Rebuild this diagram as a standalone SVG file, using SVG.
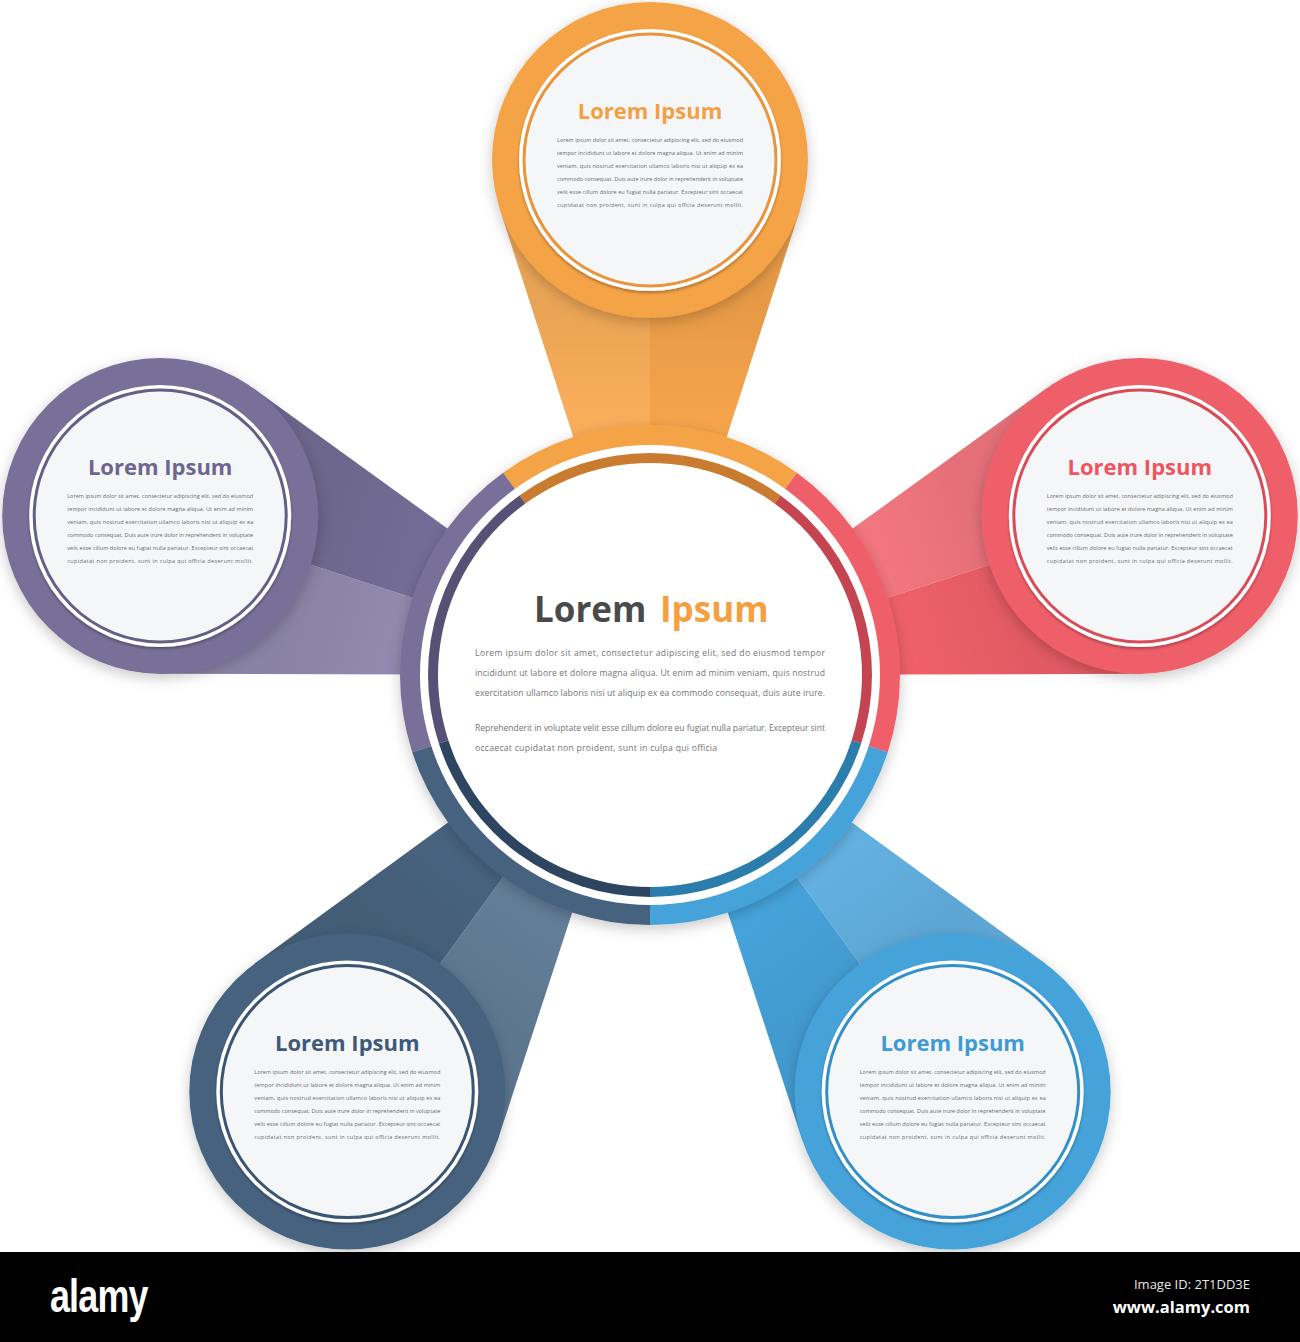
<svg xmlns="http://www.w3.org/2000/svg" width="1300" height="1342" viewBox="0 0 1300 1342">
<defs>
<style>
.title{font-family:"Open Sans","Liberation Sans",sans-serif;font-weight:700;font-size:22px;text-anchor:middle}
.body{font-family:"Open Sans","Liberation Sans",sans-serif;font-size:5.5px;fill:#6b6b6b}
.cbody{font-family:"Open Sans","Liberation Sans",sans-serif;font-size:8.6px;fill:#737373}
.ctitle{font-family:"Open Sans","Liberation Sans",sans-serif;font-weight:700;font-size:35px}
.inner{fill:#f5f6f7;stroke-width:3}
</style>
<filter id="sh" x="-30%" y="-30%" width="160%" height="160%">
<feDropShadow dx="0" dy="4" stdDeviation="7" flood-color="#000" flood-opacity="0.22"/>
</filter>
<filter id="sh2" x="-10%" y="-10%" width="120%" height="125%">
<feDropShadow dx="0" dy="2" stdDeviation="1.5" flood-color="#000" flood-opacity="0.3"/>
</filter>
<linearGradient id="stemShade" gradientUnits="userSpaceOnUse" x1="0" y1="310" x2="0" y2="420">
<stop offset="0" stop-color="#000" stop-opacity="0.06"/>
<stop offset="1" stop-color="#000" stop-opacity="0"/>
</linearGradient>
<path id="stemL" d="M650,675 L499.6,208.4 L650,160 Z"/>
<path id="stemR" d="M650,675 L800.4,208.4 L650,160 Z"/>
<path id="stemAll" d="M650,675 L499.6,208.4 L650,160 L800.4,208.4 Z"/>
<path id="wedgeO" d="M650,675 L503.05,472.75 A250,250 0 0 1 796.95,472.75 Z"/>
<path id="wedgeI" d="M650,675 L519.51,495.4 A222,222 0 0 1 780.49,495.4 Z"/>
</defs>

<rect width="1300" height="1342" fill="#ffffff"/>

<g id="connectors">
<g transform="rotate(0 650 675)">
<use href="#stemL" fill="#f9ae5a"/><use href="#stemR" fill="#f5a44b"/><use href="#stemAll" fill="url(#stemShade)"/>
</g>
<g transform="rotate(72 650 675)">
<use href="#stemL" fill="#f2767f"/><use href="#stemR" fill="#ef6069"/><use href="#stemAll" fill="url(#stemShade)"/>
</g>
<g transform="rotate(144 650 675)">
<use href="#stemL" fill="#63b1e2"/><use href="#stemR" fill="#46a3db"/><use href="#stemAll" fill="url(#stemShade)"/>
</g>
<g transform="rotate(216 650 675)">
<use href="#stemL" fill="#637e99"/><use href="#stemR" fill="#48637f"/><use href="#stemAll" fill="url(#stemShade)"/>
</g>
<g transform="rotate(288 650 675)">
<use href="#stemL" fill="#918aae"/><use href="#stemR" fill="#736c95"/><use href="#stemAll" fill="url(#stemShade)"/>
</g>
</g>

<g id="node-center">
<g filter="url(#sh)">
<use href="#wedgeO" fill="#f5a346"/>
<use href="#wedgeO" fill="#ef5f69" transform="rotate(72 650 675)"/>
<use href="#wedgeO" fill="#45a3da" transform="rotate(144 650 675)"/>
<use href="#wedgeO" fill="#46627f" transform="rotate(216 650 675)"/>
<use href="#wedgeO" fill="#786f99" transform="rotate(288 650 675)"/>
</g>
<circle cx="650" cy="675" r="230" fill="#ffffff"/>
<use href="#wedgeI" fill="#c97c30"/>
<use href="#wedgeI" fill="#c44452" transform="rotate(72 650 675)"/>
<use href="#wedgeI" fill="#2b7dab" transform="rotate(144 650 675)"/>
<use href="#wedgeI" fill="#2d4561" transform="rotate(216 650 675)"/>
<use href="#wedgeI" fill="#585176" transform="rotate(288 650 675)"/>
<circle cx="650" cy="675" r="212" fill="#ffffff"/>
<text class="ctitle" y="622"><tspan x="534" fill="#4a4a4a">Lorem</tspan><tspan x="660" fill="#f5a040">Ipsum</tspan></text>
<text class="cbody" x="475" y="656" textLength="350" lengthAdjust="spacing">Lorem ipsum dolor sit amet, consectetur adipiscing elit, sed do eiusmod tempor</text>
<text class="cbody" x="475" y="676" textLength="350" lengthAdjust="spacing">incididunt ut labore et dolore magna aliqua. Ut enim ad minim veniam, quis nostrud</text>
<text class="cbody" x="475" y="696" textLength="350" lengthAdjust="spacing">exercitation ullamco laboris nisi ut aliquip ex ea commodo consequat, duis aute irure.</text>
<text class="cbody" x="475" y="731" textLength="350" lengthAdjust="spacing">Reprehenderit in voluptate velit esse cillum dolore eu fugiat nulla pariatur. Excepteur sint</text>
<text class="cbody" x="475" y="751" textLength="242" lengthAdjust="spacing">occaecat cupidatat non proident, sunt in culpa qui officia</text>
</g>

<g id="node-top">
<circle cx="650" cy="160" r="158" fill="#f5a346" filter="url(#sh)"/>
<circle cx="650" cy="160" r="131" fill="#ffffff" filter="url(#sh2)"/>
<circle cx="650" cy="160" r="126" class="inner" stroke="#e8953c"/>
<text class="title" x="650" y="119" fill="#f3a043">Lorem Ipsum</text>
<text class="body" x="557" y="142" textLength="186" lengthAdjust="spacing">Lorem ipsum dolor sit amet, consectetur adipiscing elit, sed do eiusmod</text>
<text class="body" x="557" y="155" textLength="186" lengthAdjust="spacing">tempor incididunt ut labore et dolore magna aliqua. Ut enim ad minim</text>
<text class="body" x="557" y="168" textLength="186" lengthAdjust="spacing">veniam, quis nostrud exercitation ullamco laboris nisi ut aliquip ex ea</text>
<text class="body" x="557" y="181" textLength="186" lengthAdjust="spacing">commodo consequat. Duis aute irure dolor in reprehenderit in voluptate</text>
<text class="body" x="557" y="194" textLength="186" lengthAdjust="spacing">velit esse cillum dolore eu fugiat nulla pariatur. Excepteur sint occaecat</text>
<text class="body" x="557" y="207" textLength="186" lengthAdjust="spacing">cupidatat non proident, sunt in culpa qui officia deserunt mollit.</text>
</g>

<g id="node-right">
<circle cx="1139.8" cy="515.9" r="158" fill="#ef5f69" filter="url(#sh)"/>
<circle cx="1139.8" cy="515.9" r="131" fill="#ffffff" filter="url(#sh2)"/>
<circle cx="1139.8" cy="515.9" r="126" class="inner" stroke="#d94b56"/>
<text class="title" x="1139.8" y="475" fill="#ec5561">Lorem Ipsum</text>
<text class="body" x="1046.8" y="498" textLength="186" lengthAdjust="spacing">Lorem ipsum dolor sit amet, consectetur adipiscing elit, sed do eiusmod</text>
<text class="body" x="1046.8" y="511" textLength="186" lengthAdjust="spacing">tempor incididunt ut labore et dolore magna aliqua. Ut enim ad minim</text>
<text class="body" x="1046.8" y="524" textLength="186" lengthAdjust="spacing">veniam, quis nostrud exercitation ullamco laboris nisi ut aliquip ex ea</text>
<text class="body" x="1046.8" y="537" textLength="186" lengthAdjust="spacing">commodo consequat. Duis aute irure dolor in reprehenderit in voluptate</text>
<text class="body" x="1046.8" y="550" textLength="186" lengthAdjust="spacing">velit esse cillum dolore eu fugiat nulla pariatur. Excepteur sint occaecat</text>
<text class="body" x="1046.8" y="563" textLength="186" lengthAdjust="spacing">cupidatat non proident, sunt in culpa qui officia deserunt mollit.</text>
</g>

<g id="node-bottom-right">
<circle cx="952.7" cy="1091.6" r="158" fill="#45a3da" filter="url(#sh)"/>
<circle cx="952.7" cy="1091.6" r="131" fill="#ffffff" filter="url(#sh2)"/>
<circle cx="952.7" cy="1091.6" r="126" class="inner" stroke="#3290c8"/>
<text class="title" x="952.7" y="1051" fill="#3c9bd6">Lorem Ipsum</text>
<text class="body" x="859.7" y="1074" textLength="186" lengthAdjust="spacing">Lorem ipsum dolor sit amet, consectetur adipiscing elit, sed do eiusmod</text>
<text class="body" x="859.7" y="1087" textLength="186" lengthAdjust="spacing">tempor incididunt ut labore et dolore magna aliqua. Ut enim ad minim</text>
<text class="body" x="859.7" y="1100" textLength="186" lengthAdjust="spacing">veniam, quis nostrud exercitation ullamco laboris nisi ut aliquip ex ea</text>
<text class="body" x="859.7" y="1113" textLength="186" lengthAdjust="spacing">commodo consequat. Duis aute irure dolor in reprehenderit in voluptate</text>
<text class="body" x="859.7" y="1126" textLength="186" lengthAdjust="spacing">velit esse cillum dolore eu fugiat nulla pariatur. Excepteur sint occaecat</text>
<text class="body" x="859.7" y="1139" textLength="186" lengthAdjust="spacing">cupidatat non proident, sunt in culpa qui officia deserunt mollit.</text>
</g>

<g id="node-bottom-left">
<circle cx="347.3" cy="1091.6" r="158" fill="#46627f" filter="url(#sh)"/>
<circle cx="347.3" cy="1091.6" r="131" fill="#ffffff" filter="url(#sh2)"/>
<circle cx="347.3" cy="1091.6" r="126" class="inner" stroke="#3a5572"/>
<text class="title" x="347.3" y="1051" fill="#40597a">Lorem Ipsum</text>
<text class="body" x="254.3" y="1074" textLength="186" lengthAdjust="spacing">Lorem ipsum dolor sit amet, consectetur adipiscing elit, sed do eiusmod</text>
<text class="body" x="254.3" y="1087" textLength="186" lengthAdjust="spacing">tempor incididunt ut labore et dolore magna aliqua. Ut enim ad minim</text>
<text class="body" x="254.3" y="1100" textLength="186" lengthAdjust="spacing">veniam, quis nostrud exercitation ullamco laboris nisi ut aliquip ex ea</text>
<text class="body" x="254.3" y="1113" textLength="186" lengthAdjust="spacing">commodo consequat. Duis aute irure dolor in reprehenderit in voluptate</text>
<text class="body" x="254.3" y="1126" textLength="186" lengthAdjust="spacing">velit esse cillum dolore eu fugiat nulla pariatur. Excepteur sint occaecat</text>
<text class="body" x="254.3" y="1139" textLength="186" lengthAdjust="spacing">cupidatat non proident, sunt in culpa qui officia deserunt mollit.</text>
</g>

<g id="node-left">
<circle cx="160.2" cy="515.9" r="158" fill="#786f99" filter="url(#sh)"/>
<circle cx="160.2" cy="515.9" r="131" fill="#ffffff" filter="url(#sh2)"/>
<circle cx="160.2" cy="515.9" r="126" class="inner" stroke="#655e86"/>
<text class="title" x="160.2" y="475" fill="#6d6690">Lorem Ipsum</text>
<text class="body" x="67.2" y="498" textLength="186" lengthAdjust="spacing">Lorem ipsum dolor sit amet, consectetur adipiscing elit, sed do eiusmod</text>
<text class="body" x="67.2" y="511" textLength="186" lengthAdjust="spacing">tempor incididunt ut labore et dolore magna aliqua. Ut enim ad minim</text>
<text class="body" x="67.2" y="524" textLength="186" lengthAdjust="spacing">veniam, quis nostrud exercitation ullamco laboris nisi ut aliquip ex ea</text>
<text class="body" x="67.2" y="537" textLength="186" lengthAdjust="spacing">commodo consequat. Duis aute irure dolor in reprehenderit in voluptate</text>
<text class="body" x="67.2" y="550" textLength="186" lengthAdjust="spacing">velit esse cillum dolore eu fugiat nulla pariatur. Excepteur sint occaecat</text>
<text class="body" x="67.2" y="563" textLength="186" lengthAdjust="spacing">cupidatat non proident, sunt in culpa qui officia deserunt mollit.</text>
</g>

<g id="footer-band">
<rect x="0" y="1252" width="1300" height="90" fill="#000000"/>
<text x="64" y="1312" transform="scale(0.78 1)" font-family="Liberation Sans, Arial, sans-serif" font-weight="700" font-size="46" fill="#ffffff" letter-spacing="-1">alamy</text>
<text x="1250" y="1289" text-anchor="end" font-family="Open Sans, Liberation Sans, sans-serif" font-size="13" fill="#e6e6e6">Image ID: 2T1DD3E</text>
<text x="1250" y="1313" text-anchor="end" font-family="Open Sans, Liberation Sans, sans-serif" font-weight="700" font-size="16.5" fill="#ffffff">www.alamy.com</text>
</g>
</svg>
